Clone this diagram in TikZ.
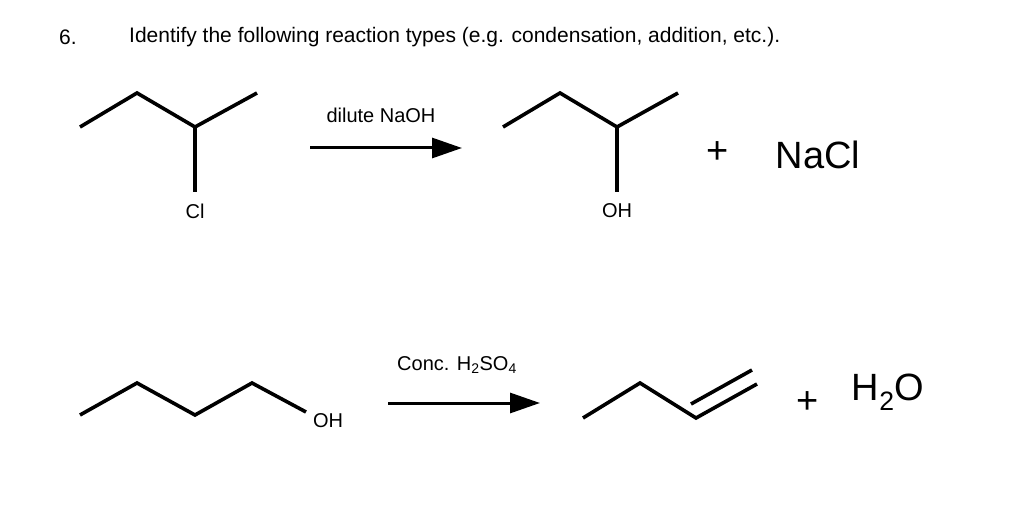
\documentclass[tikz,border=0pt]{standalone}
\usepackage{fontspec}
\setmainfont{Liberation Sans}
\usetikzlibrary{arrows.meta}
\begin{document}
\begin{tikzpicture}[x=1pt,y=-1pt,
 bond/.style={line width=3.6pt,line join=miter,line cap=butt},
 rarrow/.style={line width=3pt,-{Triangle[length=30pt,width=20pt]}},
 lbl/.style={font=\fontsize{20}{24}\selectfont,inner sep=0pt},
 big/.style={font=\fontsize{38}{44}\selectfont,inner sep=0pt}]
\useasboundingbox (0,0) rectangle (1024,513);
\node[lbl,font=\fontsize{21}{24}\selectfont] (num) at (68,37) {6.};
\node[lbl,anchor=west,font=\fontsize{21}{24}\selectfont] (title) at (129,37) {Identify the following reaction types (e.g. condensation, addition, etc.).};
% reaction 1
\coordinate (a1) at (80,127); \coordinate (a2) at (137,93); \coordinate (a3) at (195,127); \coordinate (a4) at (257,93); \coordinate (a5) at (195,192);
\draw[bond] (a1)--(a2)--(a3)--(a4); \draw[bond] (a3)--(a5);
\node[lbl] (cl) at (195,211) {Cl};
\coordinate (r1s) at (310,148); \coordinate (r1e) at (462,148);
\draw[rarrow] (r1s)--(r1e);
\node[lbl] (naoh) at (381,115) {dilute NaOH};
\coordinate (b1) at (503,127); \coordinate (b2) at (560,93); \coordinate (b3) at (617,127); \coordinate (b4) at (678,93); \coordinate (b5) at (617,192);
\draw[bond] (b1)--(b2)--(b3)--(b4); \draw[bond] (b3)--(b5);
\node[lbl] (oh1) at (617,211) {OH};
\node[big] (p1) at (718,153) {+};
\node[big] (nacl) at (818,155) {NaCl};
% reaction 2
\coordinate (c1) at (80,415); \coordinate (c2) at (137,383); \coordinate (c3) at (195,415); \coordinate (c4) at (252,383); \coordinate (c5) at (306,412);
\draw[bond] (c1)--(c2)--(c3)--(c4)--(c5);
\node[lbl] (oh2) at (328,421) {OH};
\coordinate (r2s) at (388,403); \coordinate (r2e) at (540,403);
\draw[rarrow] (r2s)--(r2e);
\node[lbl] (h2so4) at (457,365) {Conc. H\textsubscript{2}SO\textsubscript{4}};
\coordinate (d1) at (583,418); \coordinate (d2) at (640,383); \coordinate (d3) at (696,418); \coordinate (d4) at (757,384);
\coordinate (e1) at (691,404); \coordinate (e2) at (752,370);
\draw[bond] (d1)--(d2)--(d3)--(d4); \draw[bond] (e1)--(e2);
\node[big] (p2) at (808,403) {+};
\node[big] (h2o) at (888,392) {H\textsubscript{2}O};
\end{tikzpicture}
\end{document}
